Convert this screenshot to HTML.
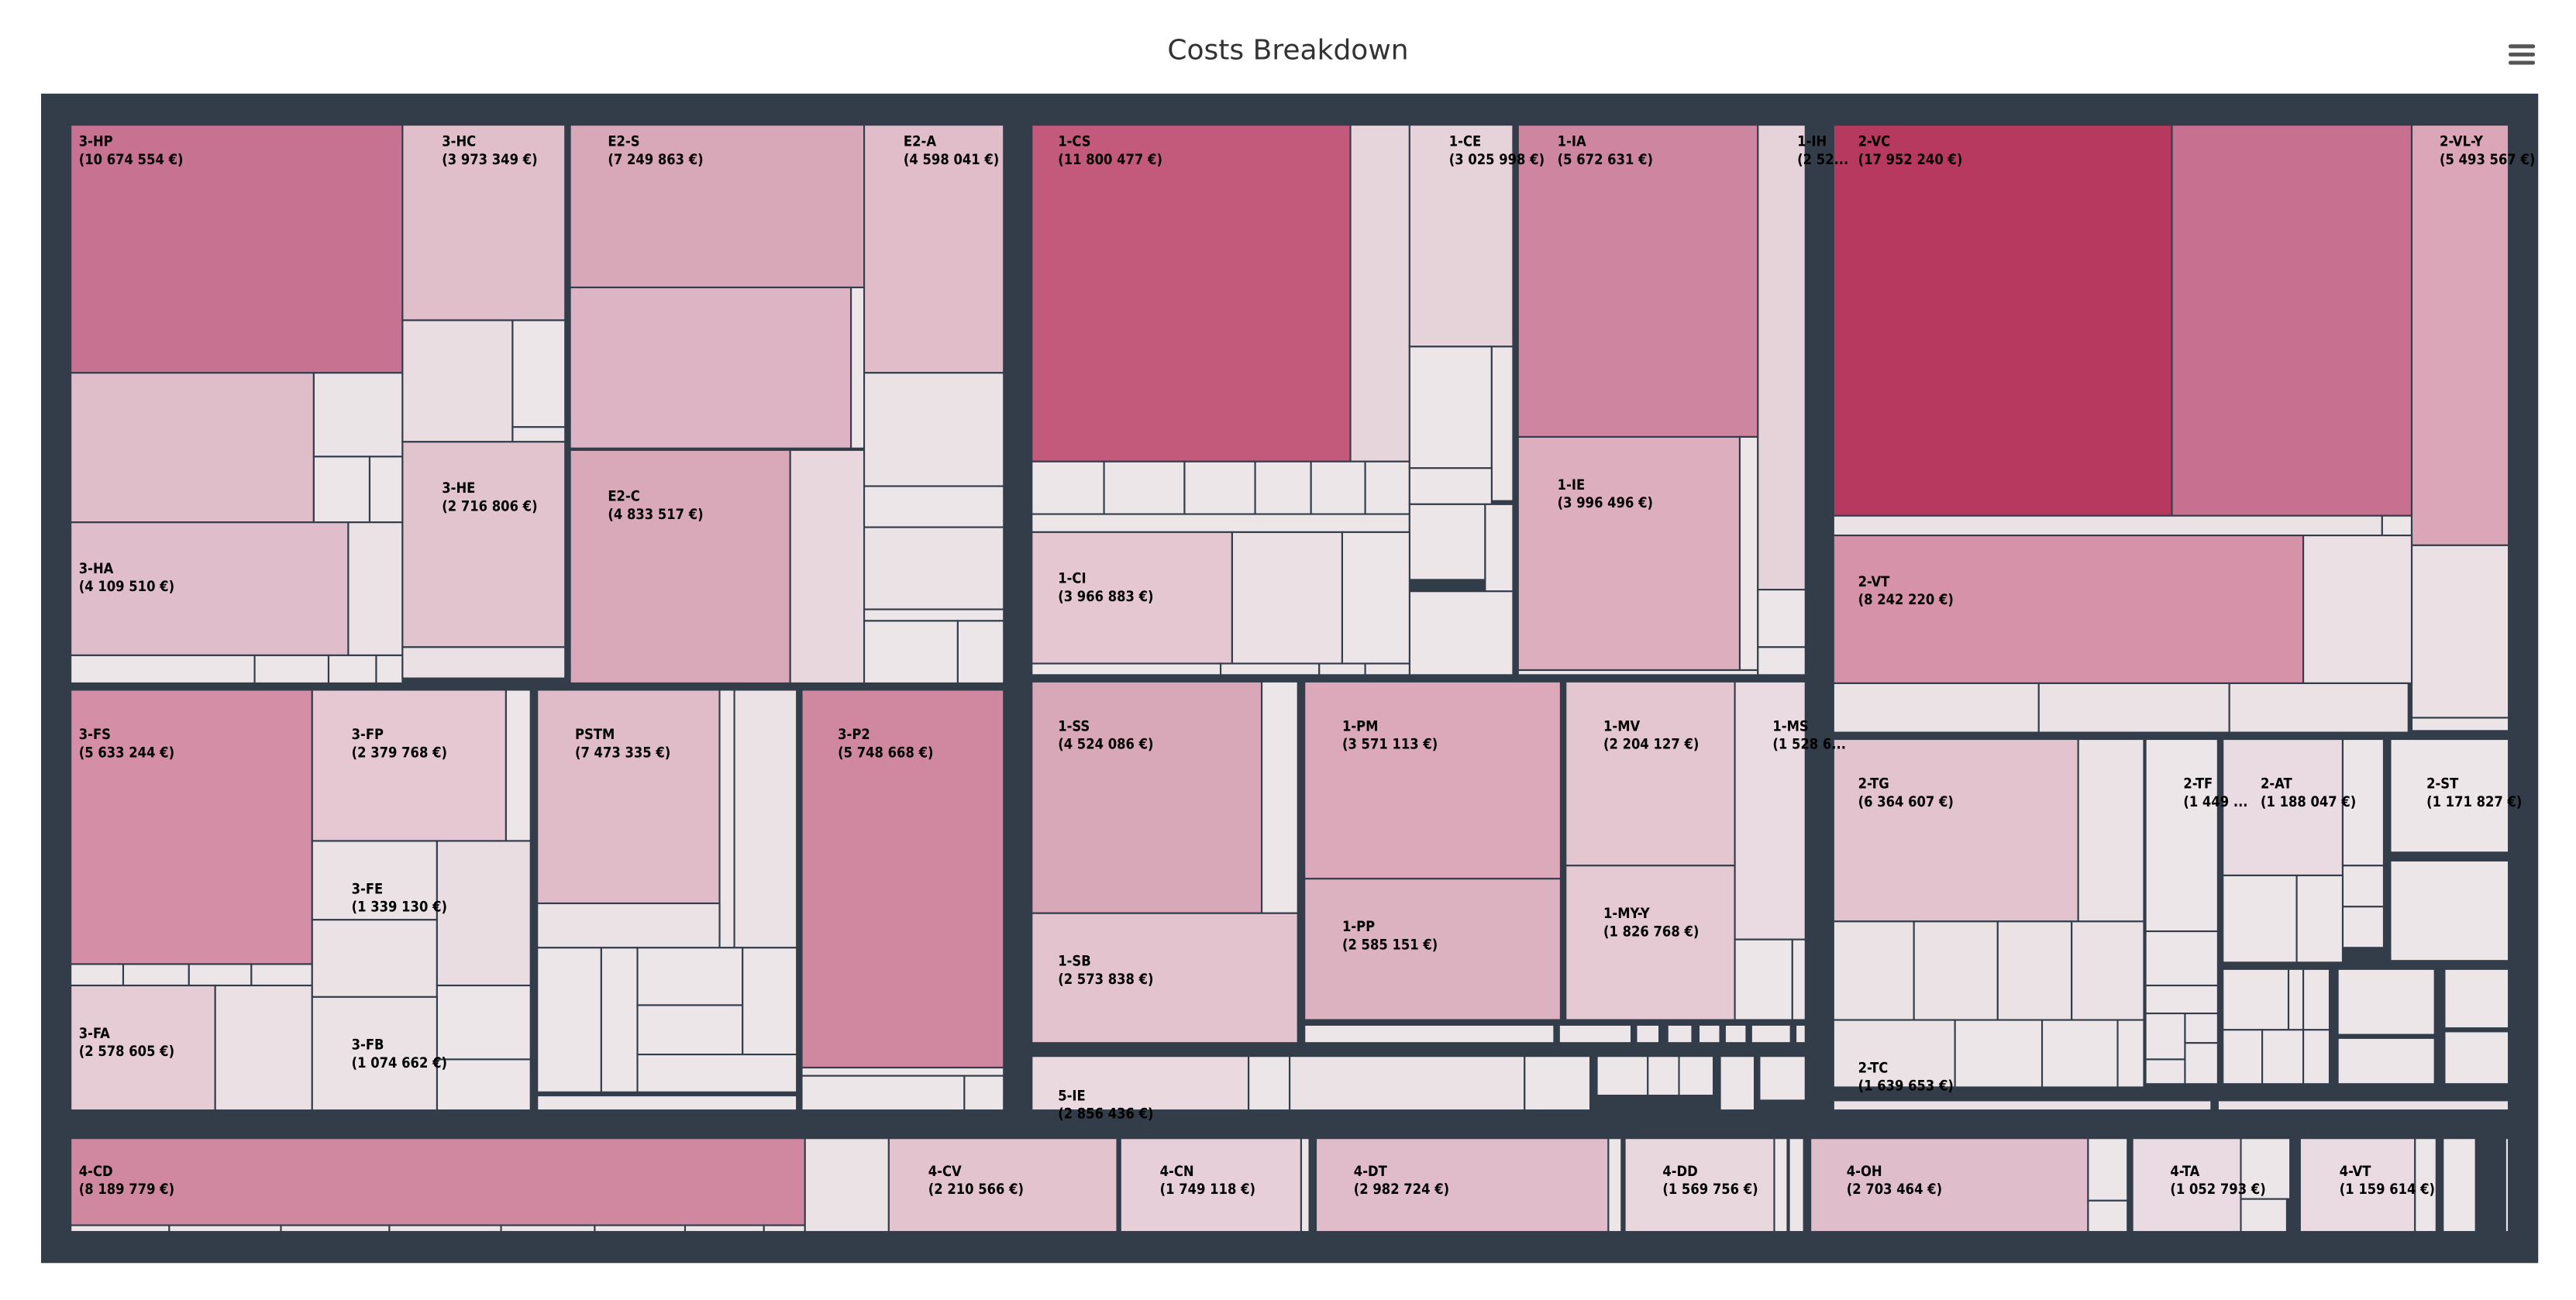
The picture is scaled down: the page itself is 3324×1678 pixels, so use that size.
<!DOCTYPE html>
<html><head><meta charset="utf-8"><style>
html,body{margin:0;padding:0;background:#fff;}
svg{display:block}
text.l{font-family:"DejaVu Sans Condensed","DejaVu Sans","Liberation Sans",sans-serif;font-size:8.6px;font-weight:bold;fill:#000}
</style></head><body>
<svg id="s" xmlns="http://www.w3.org/2000/svg" width="3324" height="1678" viewBox="0 0 1568 791.5" preserveAspectRatio="none">
<rect x="0" y="0" width="1568" height="791.5" fill="#fff"/>
<text x="784" y="36" text-anchor="middle" font-family="'DejaVu Sans','Liberation Sans',sans-serif" font-size="17" fill="#333">Costs Breakdown</text>
<g fill="#555"><rect x="1527" y="27" width="16" height="2.4" rx="1"/><rect x="1527" y="32" width="16" height="2.4" rx="1"/><rect x="1527" y="37" width="16" height="2.4" rx="1"/></g>
<rect x="25" y="57" width="1520" height="712" fill="#333d4a"/>
<g id="r" stroke="#333d4a" stroke-width="1"></g>
<g id="t">
<text class="l" x="48" y="89">3-HP</text><text class="l" x="48" y="100">(10 674 554 €)</text>
<text class="l" x="269" y="89">3-HC</text><text class="l" x="269" y="100">(3 973 349 €)</text>
<text class="l" x="370" y="89">E2-S</text><text class="l" x="370" y="100">(7 249 863 €)</text>
<text class="l" x="550" y="89">E2-A</text><text class="l" x="550" y="100">(4 598 041 €)</text>
<text class="l" x="269" y="300">3-HE</text><text class="l" x="269" y="311">(2 716 806 €)</text>
<text class="l" x="370" y="305">E2-C</text><text class="l" x="370" y="316">(4 833 517 €)</text>
<text class="l" x="48" y="349">3-HA</text><text class="l" x="48" y="360">(4 109 510 €)</text>
<text class="l" x="48" y="450">3-FS</text><text class="l" x="48" y="461">(5 633 244 €)</text>
<text class="l" x="214" y="450">3-FP</text><text class="l" x="214" y="461">(2 379 768 €)</text>
<text class="l" x="350" y="450">PSTM</text><text class="l" x="350" y="461">(7 473 335 €)</text>
<text class="l" x="510" y="450">3-P2</text><text class="l" x="510" y="461">(5 748 668 €)</text>
<text class="l" x="214" y="544">3-FE</text><text class="l" x="214" y="555">(1 339 130 €)</text>
<text class="l" x="48" y="632">3-FA</text><text class="l" x="48" y="643">(2 578 605 €)</text>
<text class="l" x="214" y="639">3-FB</text><text class="l" x="214" y="650">(1 074 662 €)</text>
<text class="l" x="644" y="89">1-CS</text><text class="l" x="644" y="100">(11 800 477 €)</text>
<text class="l" x="882" y="89">1-CE</text><text class="l" x="882" y="100">(3 025 998 €)</text>
<text class="l" x="948" y="89">1-IA</text><text class="l" x="948" y="100">(5 672 631 €)</text>
<text class="l" x="1094" y="89">1-IH</text><text class="l" x="1094" y="100">(2 52...</text>
<text class="l" x="948" y="298">1-IE</text><text class="l" x="948" y="309">(3 996 496 €)</text>
<text class="l" x="644" y="355">1-CI</text><text class="l" x="644" y="366">(3 966 883 €)</text>
<text class="l" x="644" y="445">1-SS</text><text class="l" x="644" y="456">(4 524 086 €)</text>
<text class="l" x="817" y="445">1-PM</text><text class="l" x="817" y="456">(3 571 113 €)</text>
<text class="l" x="976" y="445">1-MV</text><text class="l" x="976" y="456">(2 204 127 €)</text>
<text class="l" x="1079" y="445">1-MS</text><text class="l" x="1079" y="456">(1 528 6...</text>
<text class="l" x="976" y="559">1-MY-Y</text><text class="l" x="976" y="570">(1 826 768 €)</text>
<text class="l" x="817" y="567">1-PP</text><text class="l" x="817" y="578">(2 585 151 €)</text>
<text class="l" x="644" y="588">1-SB</text><text class="l" x="644" y="599">(2 573 838 €)</text>
<text class="l" x="644" y="670">5-IE</text><text class="l" x="644" y="681">(2 856 436 €)</text>
<text class="l" x="1131" y="89">2-VC</text><text class="l" x="1131" y="100">(17 952 240 €)</text>
<text class="l" x="1485" y="89">2-VL-Y</text><text class="l" x="1485" y="100">(5 493 567 €)</text>
<text class="l" x="1131" y="357">2-VT</text><text class="l" x="1131" y="368">(8 242 220 €)</text>
<text class="l" x="1131" y="480">2-TG</text><text class="l" x="1131" y="491">(6 364 607 €)</text>
<text class="l" x="1329" y="480">2-TF</text><text class="l" x="1329" y="491">(1 449 ...</text>
<text class="l" x="1376" y="480">2-AT</text><text class="l" x="1376" y="491">(1 188 047 €)</text>
<text class="l" x="1477" y="480">2-ST</text><text class="l" x="1477" y="491">(1 171 827 €)</text>
<text class="l" x="1131" y="653">2-TC</text><text class="l" x="1131" y="664">(1 639 653 €)</text>
<text class="l" x="48" y="716">4-CD</text><text class="l" x="48" y="727">(8 189 779 €)</text>
<text class="l" x="565" y="716">4-CV</text><text class="l" x="565" y="727">(2 210 566 €)</text>
<text class="l" x="706" y="716">4-CN</text><text class="l" x="706" y="727">(1 749 118 €)</text>
<text class="l" x="824" y="716">4-DT</text><text class="l" x="824" y="727">(2 982 724 €)</text>
<text class="l" x="1012" y="716">4-DD</text><text class="l" x="1012" y="727">(1 569 756 €)</text>
<text class="l" x="1124" y="716">4-OH</text><text class="l" x="1124" y="727">(2 703 464 €)</text>
<text class="l" x="1321" y="716">4-TA</text><text class="l" x="1321" y="727">(1 052 793 €)</text>
<text class="l" x="1424" y="716">4-VT</text><text class="l" x="1424" y="727">(1 159 614 €)</text>
</g>
</svg>
<script>
var L="#ece6e9";
var R=[
[43,76,245,227,"#c67290"],[43,227,191,318,"#dfbdc9"],[191,227,245,278,"#ebe4e7"],[191,278,225,318,L],[225,278,245,318,L],
[43,318,212,399,"#dfbdca"],[212,318,245,399,"#ebe2e6"],[43,399,155,416,L],[155,399,200,416,L],[200,399,229,416,L],[229,399,245,416,L],
[245,76,344,195,"#e0bfca"],[245,195,312,269,"#e9dde2"],[312,195,344,260,L],[312,260,344,269,L],
[245,269,344,394,"#e2c4cf"],[245,394,344,413,"#ebe0e4"],
[347,76,526,175,"#d9a8b8"],[347,175,518,273,"#dcb4c3"],[518,175,526,273,L],
[347,274,481,416,"#d9a9b9"],[481,274,526,416,"#e8d8de"],
[526,76,611,227,"#e0bdc9"],[526,227,611,296,"#ebe2e6"],[526,296,611,321,L],[526,321,611,371,"#ebe2e6"],[526,371,611,378,L],[526,378,583,416,L],[583,378,611,416,L],
[43,420,190,587,"#d48fa6"],[43,587,75,600,L],[75,587,115,600,L],[115,587,153,600,L],[153,587,190,600,L],
[43,600,131,676,"#e6ccd5"],[131,600,190,676,"#ebe0e4"],
[190,420,308,512,"#e5c8d2"],[308,420,323,512,L],
[190,512,266,560,"#ebe2e6"],[190,560,266,607,"#ebe2e6"],[266,512,323,600,"#e9dde2"],[266,600,323,645,L],[266,645,323,676,L],
[190,607,266,676,"#ebe2e6"],
[327,420,438,550,"#dfbcc8"],[438,420,447,577,L],[447,420,485,577,"#ebe2e6"],[327,550,438,577,"#ebe2e6"],
[327,577,366,665,L],[366,577,388,665,L],[388,577,452,612,L],[388,612,452,642,L],[452,577,485,642,L],[388,642,485,665,L],[327,667,485,676,L],
[488,420,611,650,"#d088a1"],[488,650,611,655,L],[488,655,587,676,L],[587,655,611,676,L],
[628,76,822,281,"#c35a7c"],[822,76,858,281,"#e7d5dc"],
[628,281,672,313,L],[672,281,721,313,L],[721,281,764,313,L],[764,281,798,313,L],[798,281,831,313,L],[831,281,858,313,L],[628,313,858,324,L],
[858,76,921,211,"#e6d3da"],[858,211,908,285,L],[908,211,921,305,L],[858,285,908,307,L],[858,307,904,353,L],[904,307,921,360,L],[858,360,921,411,L],
[628,324,750,404,"#e4c7d1"],[750,324,817,404,"#ebe0e4"],[817,324,858,404,L],[628,404,743,411,L],[743,404,803,411,L],[803,404,831,411,L],[831,404,858,411,L],
[924,76,1070,266,"#ce85a0"],[924,266,1059,408,"#dcaebe"],[1059,266,1070,408,L],[924,408,1070,411,L],
[1070,76,1099,359,"#e6d2d9"],[1070,359,1099,394,L],[1070,394,1099,411,L],
[628,415,768,556,"#d9a8b8"],[768,415,790,556,L],[628,556,790,635,"#e2c3ce"],
[794,415,950,535,"#dba9ba"],[794,535,950,621,"#dcb1c0"],[794,624,946,635,L],
[953,415,1056,527,"#e4c6d0"],[953,527,1056,621,"#e5cad4"],[1056,415,1099,572,"#e9dbe1"],[1056,572,1091,621,L],[1091,572,1099,621,L],
[949,624,993,635,L],[996,624,1010,635,L],[1015,624,1030,635,L],[1034,624,1047,635,L],[1050,624,1063,635,L],[1066,624,1090,635,L],[1093,624,1099,635,L],
[628,643,760,676,"#ead9df"],[760,643,785,676,L],[785,643,928,676,"#ebe2e6"],[928,643,968,676,L],
[972,643,1003,667,L],[1003,643,1022,667,L],[1022,643,1043,667,L],[1047,643,1068,676,L],[1071,643,1099,670,L],
[1116,76,1322,314,"#b8395f"],[1322,76,1468,314,"#c7708f"],[1116,314,1450,326,"#ebe2e6"],[1450,314,1468,326,L],
[1468,76,1527,332,"#dba7b8"],[1468,332,1527,437,"#ebe0e4"],[1468,437,1527,445,L],
[1116,326,1402,416,"#d592a9"],[1402,326,1468,416,"#ebe0e4"],[1116,416,1241,446,"#ebe2e6"],[1241,416,1357,446,"#ebe2e6"],[1357,416,1466,446,"#ebe2e6"],
[1116,450,1265,561,"#e2c3ce"],[1265,450,1305,561,"#ebe2e6"],
[1116,561,1165,621,"#ebe2e6"],[1165,561,1216,621,"#ebe2e6"],[1216,561,1261,621,"#ebe2e6"],[1261,561,1305,621,"#ebe2e6"],
[1116,621,1190,662,"#ebe2e6"],[1190,621,1243,662,L],[1243,621,1289,662,L],[1289,621,1305,662,L],
[1306,450,1350,567,L],[1306,567,1350,600,L],[1306,600,1350,617,L],[1306,617,1330,645,L],[1330,617,1350,635,L],[1306,645,1330,660,L],[1330,635,1350,660,L],
[1353,450,1426,533,"#e9dbe1"],[1426,450,1451,527,L],[1426,527,1451,552,L],[1426,552,1451,577,L],[1353,533,1398,586,L],[1398,533,1426,586,L],
[1455,450,1527,519,L],[1455,524,1527,585,L],
[1353,590,1393,627,L],[1393,590,1402,627,L],[1402,590,1418,627,L],[1353,627,1377,660,L],[1377,627,1402,660,L],[1402,627,1418,660,L],
[1423,590,1482,630,L],[1423,632,1482,660,L],[1488,590,1527,626,L],[1488,628,1527,660,L],
[1116,670,1346,676,"#ebe2e6"],[1350,670,1527,676,"#ebe2e6"],
[43,693,490,746,"#d088a1"],[43,746,103,750,L],[103,746,171,750,L],[171,746,237,750,L],[237,746,305,750,L],[305,746,362,750,L],[362,746,417,750,L],[417,746,465,750,L],[465,746,490,750,L],
[490,693,541,750,"#ebe2e6"],[541,693,680,750,"#e2c3ce"],[682,693,792,750,"#e6cfd8"],[792,693,797,750,L],
[801,693,979,750,"#e0bccb"],[979,693,987,750,L],[989,693,1080,750,"#e8d8de"],[1080,693,1088,750,L],[1089,693,1098,750,L],
[1102,693,1271,750,"#e0bdca"],[1271,693,1295,731,L],[1271,731,1295,750,L],
[1298,693,1364,750,"#e9dbe1"],[1364,693,1394,730,L],[1364,730,1392,750,L],
[1400,693,1470,750,"#e9dbe1"],[1470,693,1483,750,L],[1487,693,1507,750,L],[1525,693,1527,750,L]
];
var g=document.getElementById("r"),h="";
R.forEach(function(a){h+='<rect x="'+a[0]+'" y="'+a[1]+'" width="'+(a[2]-a[0])+'" height="'+(a[3]-a[1])+'" fill="'+a[4]+'"/>';});
g.innerHTML=h;
</script>
</body></html>
